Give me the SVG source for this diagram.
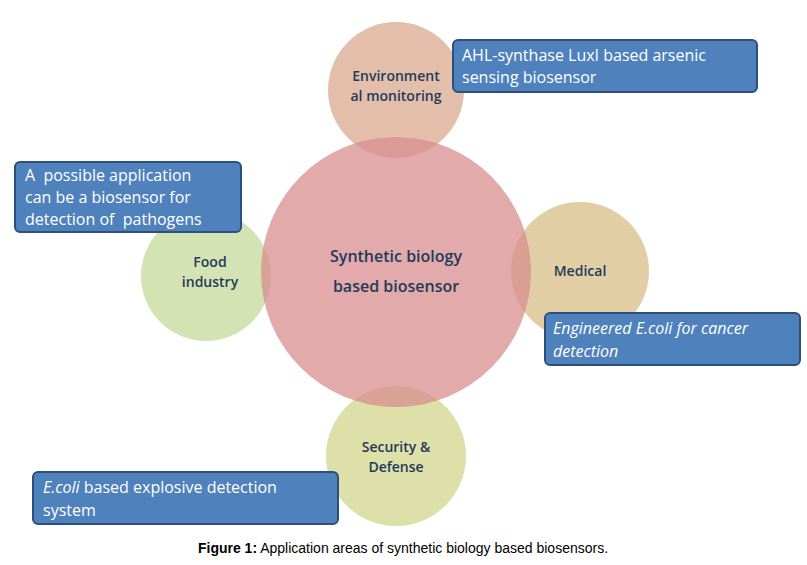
<svg xmlns="http://www.w3.org/2000/svg" width="807" height="565" viewBox="0 0 807 565">
<style>
.c{opacity:0.75}
.lbl{font-family:"Open Sans","Liberation Sans",sans-serif;font-size:14px;font-weight:600;fill:#1f3a5a;text-anchor:middle}
.box{fill:#4f81bd;stroke:#2c4f7c;stroke-width:2}
.bt{font-family:"Open Sans","Liberation Sans",sans-serif;font-size:16px;fill:#fff;white-space:pre}
</style>
<rect width="807" height="565" fill="#fff"/>
<g id="environment"><circle class="c" cx="396" cy="90" r="68" fill="#d9a98f"/><text class="lbl" x="396" y="81">Environment</text><text class="lbl" x="396" y="101">al monitoring</text></g>
<g id="food"><circle class="c" cx="206" cy="276" r="65" fill="#c6d99a"/><text class="lbl" x="210" y="267">Food</text><text class="lbl" x="210" y="287">industry</text></g>
<g id="medical"><circle class="c" cx="580" cy="271" r="69" fill="#d8bd86"/><text class="lbl" x="580" y="276">Medical</text></g>
<g id="security"><circle class="c" cx="396" cy="456" r="70" fill="#d2d68c"/><text class="lbl" x="396" y="452">Security &amp;</text><text class="lbl" x="396" y="472">Defense</text></g>
<g id="center"><circle class="c" cx="396" cy="272" r="135" fill="#d88d8d"/><text class="lbl" x="396" y="262" style="font-size:16px">Synthetic  biology</text><text class="lbl" x="396" y="292" style="font-size:16px">based biosensor</text></g>
<g id="connectors"></g>
<g id="box-top"><rect class="box" x="453" y="40" width="304" height="52" rx="5"/><text class="bt" x="462" y="61">AHL-synthase LuxI based arsenic</text><text class="bt" x="462" y="83">sensing biosensor</text></g>
<g id="box-left"><rect class="box" x="15" y="162" width="226" height="70" rx="5"/><text class="bt" x="25" y="181">A  possible application</text><text class="bt" x="25" y="203">can be a biosensor for</text><text class="bt" x="25" y="225">detection of  pathogens</text></g>
<g id="box-right"><rect class="box" x="545" y="313" width="255" height="52" rx="5"/><text class="bt" x="553" y="334" font-style="italic">Engineered E.coli for cancer</text><text class="bt" x="553" y="357" font-style="italic">detection</text></g>
<g id="box-bottom"><rect class="box" x="33" y="472" width="305" height="52" rx="5"/><text class="bt" x="43" y="493"><tspan font-style="italic">E.coli</tspan> based explosive detection</text><text class="bt" x="43" y="516">system</text></g>
<text x="403" y="553" text-anchor="middle" style="font-family:'Liberation Sans',Arial,sans-serif;font-size:14px;fill:#000"><tspan font-weight="bold">Figure 1:</tspan> Application areas of synthetic biology based biosensors.</text>
</svg>
